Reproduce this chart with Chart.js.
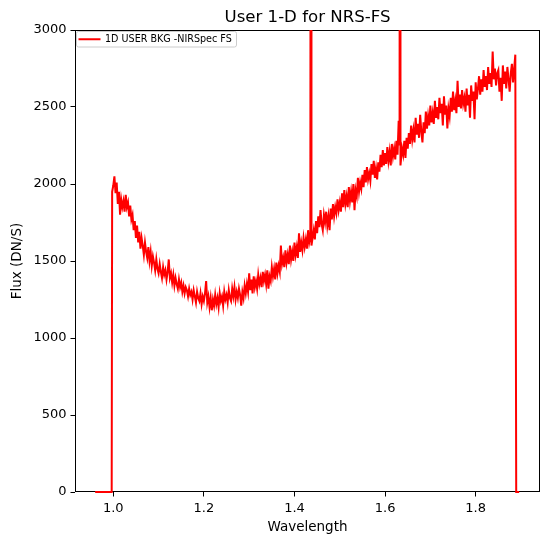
<!DOCTYPE html>
<html lang="en">
  <head>
    <meta charset="utf-8" />
    <title>User 1-D for NRS-FS</title>
    <script src="https://cdn.jsdelivr.net/npm/chart.js/dist/chart.umd.min.js"></script>
    <style>
      * {
        margin: 0;
        padding: 0;
      }
      body {
        background: #fff;
        width: 553px;
        height: 545px;
        overflow: hidden;
      }
      canvas {
        display: block;
      }
    </style>
  </head>
  <body>
    <canvas id="myChart" width="553" height="545"></canvas>

    <script>
      const chartTitle = "User 1-D for NRS-FS";
      const seriesLabel = "1D USER BKG -NIRSpec FS";

      // wavelength (microns)
      const wavelength = [
        0.960, 0.9965, 0.9975,
        1.000, 1.0025, 1.005, 1.0075, 1.010, 1.0125, 1.015, 1.0175, 1.020, 1.0225,
        1.025, 1.0275, 1.030, 1.0325, 1.035, 1.0375, 1.040, 1.0425, 1.045, 1.0475,
        1.050, 1.0525, 1.055, 1.0575, 1.060, 1.0625, 1.065, 1.0675, 1.070, 1.0725,
        1.075, 1.0775, 1.080, 1.0825, 1.085, 1.0875, 1.090, 1.0925, 1.095, 1.0975,
        1.100, 1.1025, 1.105, 1.1075, 1.110, 1.1125, 1.115, 1.1175, 1.120, 1.1225,
        1.125, 1.1275, 1.130, 1.1325, 1.135, 1.1375, 1.140, 1.1425, 1.145, 1.1475,
        1.150, 1.1525, 1.155, 1.1575, 1.160, 1.1625, 1.165, 1.1675, 1.170, 1.1725,
        1.175, 1.1775, 1.180, 1.1825, 1.185, 1.1875, 1.190, 1.1925, 1.195, 1.1975,
        1.200, 1.2025, 1.205, 1.2075, 1.210, 1.2125, 1.215, 1.2175, 1.220, 1.2225,
        1.225, 1.2275, 1.230, 1.2325, 1.235, 1.2375, 1.240, 1.2425, 1.245, 1.2475,
        1.250, 1.2525, 1.255, 1.2575, 1.260, 1.2625, 1.265, 1.2675, 1.270, 1.2725,
        1.275, 1.2775, 1.280, 1.2825, 1.285, 1.2875, 1.290, 1.2925, 1.295, 1.2975,
        1.300, 1.3025, 1.305, 1.3075, 1.310, 1.3125, 1.315, 1.3175, 1.320, 1.3225,
        1.325, 1.3275, 1.330, 1.3325, 1.335, 1.3375, 1.340, 1.3425, 1.345, 1.3475,
        1.350, 1.3525, 1.355, 1.3575, 1.360, 1.3625, 1.365, 1.3675, 1.370, 1.3725,
        1.375, 1.3775, 1.380, 1.3825, 1.385, 1.3875, 1.390, 1.3925, 1.395, 1.3975,
        1.400, 1.4025, 1.405, 1.4075, 1.410, 1.4125, 1.415, 1.4175, 1.420, 1.4225,
        1.425, 1.4275, 1.430, 1.4325, 1.435, 1.4365, 1.4375, 1.440, 1.4425, 1.445, 1.4475,
        1.450, 1.4525, 1.455, 1.4575, 1.460, 1.4625, 1.465, 1.4675, 1.470, 1.4725,
        1.475, 1.4775, 1.480, 1.4825, 1.485, 1.4875, 1.490, 1.4925, 1.495, 1.4975,
        1.500, 1.5025, 1.505, 1.5075, 1.510, 1.5125, 1.515, 1.5175, 1.520, 1.5225,
        1.525, 1.5275, 1.530, 1.5325, 1.535, 1.5375, 1.540, 1.5425, 1.545, 1.5475,
        1.550, 1.5525, 1.555, 1.5575, 1.560, 1.5625, 1.565, 1.5675, 1.570, 1.5725,
        1.575, 1.5775, 1.580, 1.5825, 1.585, 1.5875, 1.590, 1.5925, 1.595, 1.5975,
        1.600, 1.6025, 1.605, 1.6075, 1.610, 1.6125, 1.615, 1.6175, 1.620, 1.6225,
        1.625, 1.6275, 1.630, 1.632, 1.633, 1.634, 1.6375, 1.640, 1.6425, 1.645, 1.6475,
        1.650, 1.6525, 1.655, 1.6575, 1.660, 1.6625, 1.665, 1.6675, 1.670, 1.6725,
        1.675, 1.6775, 1.680, 1.6825, 1.685, 1.6875, 1.690, 1.6925, 1.695, 1.6975,
        1.700, 1.7025, 1.705, 1.7075, 1.710, 1.7125, 1.715, 1.7175, 1.720, 1.7225,
        1.725, 1.7275, 1.730, 1.7325, 1.735, 1.7375, 1.740, 1.7425, 1.745, 1.7475,
        1.750, 1.7525, 1.755, 1.7575, 1.760, 1.7625, 1.765, 1.7675, 1.770, 1.7725,
        1.775, 1.7775, 1.780, 1.7825, 1.785, 1.7875, 1.790, 1.7925, 1.795, 1.7975,
        1.800, 1.8025, 1.805, 1.8075, 1.810, 1.8125, 1.815, 1.8175, 1.820, 1.8225,
        1.825, 1.8275, 1.830, 1.8325, 1.835, 1.8375, 1.840, 1.8425, 1.845, 1.8475,
        1.850, 1.8525, 1.855, 1.8575, 1.860, 1.8625, 1.865, 1.8675, 1.870, 1.8725,
        1.875, 1.8775, 1.880, 1.8825, 1.885, 1.8875,
        1.8895, 1.896,
      ];

      // flux (DN/S)
      const flux = [
        0, 0, 1950,
        1990, 2050, 1940, 2010, 1870, 1950, 1800, 1900, 1850, 1890,
        1820, 1930, 1850, 1880, 1790, 1860, 1770, 1800, 1700, 1760,
        1650, 1730, 1620, 1690, 1580, 1650, 1600, 1540, 1620, 1560,
        1520, 1590, 1500, 1560, 1470, 1530, 1490, 1440, 1510, 1450,
        1420, 1480, 1430, 1390, 1460, 1410, 1440, 1380, 1430, 1510,
        1390, 1420, 1360, 1410, 1340, 1390, 1350, 1320, 1380, 1330,
        1360, 1300, 1340, 1290, 1330, 1310, 1270, 1320, 1280, 1300,
        1250, 1310, 1270, 1230, 1300, 1260, 1240, 1290, 1220, 1270,
        1240, 1290, 1370, 1230, 1270, 1200, 1260, 1180, 1250, 1210,
        1280, 1220, 1260, 1200, 1290, 1240, 1270, 1210, 1300, 1250,
        1280, 1230, 1310, 1260, 1240, 1320, 1270, 1330, 1250, 1300,
        1260, 1320, 1280, 1210, 1300, 1260, 1340, 1290, 1350, 1300,
        1420, 1310, 1380, 1290, 1400, 1330, 1370, 1320, 1410, 1350,
        1390, 1330, 1430, 1370, 1410, 1350, 1440, 1320, 1400, 1370,
        1460, 1400, 1450, 1380, 1490, 1420, 1470, 1430, 1600, 1480,
        1520, 1460, 1570, 1490, 1540, 1480, 1600, 1510, 1560, 1500,
        1620, 1540, 1590, 1520, 1680, 1560, 1620, 1570, 1650, 1590,
        1640, 1580, 1700, 1620, 1660, 9000, 1600, 1650, 1700, 1640, 1760,
        1680, 1790, 1720, 1830, 1740, 1700, 1800, 1750, 1820, 1730,
        1790, 1700, 1840, 1770, 1870, 1790, 1850, 1810, 1900, 1830,
        1880, 1820, 1940, 1850, 1960, 1870, 1920, 1850, 1980, 1890,
        1950, 1880, 2000, 1830, 1960, 1920, 2040, 1950, 2010, 1970,
        2060, 1980, 2090, 2010, 2110, 2030, 2070, 2020, 2130, 2060,
        2150, 2040, 2100, 2030, 2140, 2080, 2190, 2110, 2220, 2120,
        2200, 2130, 2240, 2150, 2210, 2120, 2260, 2180, 2230, 2160,
        2280, 2190, 2410, 2250, 9000, 2120, 2230, 2190, 2280, 2170, 2300,
        2230, 2330, 2260, 2380, 2290, 2350, 2270, 2430, 2320, 2390,
        2300, 2450, 2340, 2270, 2400, 2330, 2470, 2360, 2440, 2380,
        2510, 2400, 2460, 2390, 2540, 2430, 2500, 2420, 2560, 2460,
        2520, 2380, 2570, 2450, 2510, 2360, 2490, 2440, 2560, 2470,
        2600, 2480, 2540, 2460, 2670, 2500, 2580, 2490, 2610, 2520,
        2560, 2470, 2620, 2510, 2580, 2430, 2640, 2540, 2600, 2420,
        2660, 2550, 2620, 2700, 2580, 2680, 2600, 2740, 2630, 2700,
        2610, 2760, 2650, 2720, 2630, 2860, 2680, 2750, 2640, 2720,
        2740, 2600, 2690, 2540, 2770, 2650, 2730, 2620, 2760, 2680,
        2600, 2720, 2780, 2660, 2750, 2840,
        0, 0,
      ];

      const xTicks = [1.0, 1.2, 1.4, 1.6, 1.8];
      const yTicks = [0, 500, 1000, 1500, 2000, 2500, 3000];

      const FONT = "'DejaVu Sans', sans-serif";

      // axes frame under the line, like the red zero level sitting on the spine
      const mplFrame = {
        id: "mplFrame",
        beforeDatasetsDraw(chart) {
          const { ctx, chartArea } = chart;
          const { left, top, right, bottom } = chartArea;
          ctx.save();
          ctx.strokeStyle = "#000";
          ctx.lineWidth = 1;
          ctx.strokeRect(left + 0.5, top + 0.5, right - left - 1, bottom - top - 1);
          ctx.restore();
        },
      };

      // title and legend box drawn matplotlib-style
      const mplDecor = {
        id: "mplDecor",
        afterDraw(chart) {
          const { ctx, chartArea } = chart;
          const { left, top, right } = chartArea;
          ctx.save();

          ctx.fillStyle = "#000";
          ctx.font = `16.6px ${FONT}`;
          ctx.textAlign = "center";
          ctx.textBaseline = "alphabetic";
          ctx.fillText(chartTitle, (left + right) / 2, 22);

          const bx = left + 1.5, by = top + 1.5, bw = 160, bh = 15.5;
          ctx.beginPath();
          ctx.roundRect(bx, by, bw, bh, 2);
          ctx.fillStyle = "rgba(255,255,255,0.8)";
          ctx.fill();
          ctx.strokeStyle = "#cccccc";
          ctx.lineWidth = 1;
          ctx.stroke();

          ctx.beginPath();
          ctx.moveTo(bx + 2, by + bh / 2);
          ctx.lineTo(bx + 24, by + bh / 2);
          ctx.strokeStyle = "#ff0000";
          ctx.lineWidth = 2;
          ctx.stroke();

          ctx.fillStyle = "#000";
          ctx.font = `9.6px ${FONT}`;
          ctx.textAlign = "left";
          ctx.textBaseline = "middle";
          ctx.fillText(seriesLabel, bx + 28.5, by + bh / 2 + 0.5);
          ctx.restore();
        },
      };

      const config = {
        type: "line",
        data: {
          datasets: [
            {
              label: seriesLabel,
              data: wavelength.map((w, i) => ({ x: w, y: flux[i] })),
              borderColor: "#ff0000",
              backgroundColor: "#ff0000",
              borderWidth: 2,
              pointRadius: 0,
              tension: 0,
              fill: false,
              clip: { left: 2, top: 0, right: 2, bottom: 2 },
            },
          ],
        },
        options: {
          responsive: false,
          devicePixelRatio: 1,
          animation: false,
          layout: {
            padding: { left: 0, top: 30, right: 13, bottom: 0 },
          },
          plugins: {
            legend: { display: false },
            tooltip: { enabled: false },
            title: { display: false },
          },
          scales: {
            x: {
              type: "linear",
              min: 0.9155,
              max: 1.942,
              afterBuildTicks: (scale) => {
                scale.ticks = xTicks.map((v) => ({ value: v }));
              },
              afterFit: (scale) => {
                scale.height = 53;
              },
              ticks: {
                color: "#000",
                font: { family: FONT, size: 13 },
                padding: 4,
                maxRotation: 0,
                autoSkip: false,
                callback: (v) => Number(v).toFixed(1),
              },
              grid: {
                display: true,
                drawOnChartArea: false,
                drawTicks: true,
                tickLength: 4.5,
                tickColor: "#000",
                tickWidth: 1,
              },
              border: { display: false },
              title: {
                display: true,
                text: "Wavelength",
                color: "#000",
                font: { family: FONT, size: 13.5 },
                padding: { top: 2, bottom: 9 },
              },
            },
            y: {
              min: 0,
              max: 3000,
              afterBuildTicks: (scale) => {
                scale.ticks = yTicks.map((v) => ({ value: v }));
              },
              afterFit: (scale) => {
                scale.width = 75;
              },
              ticks: {
                color: "#000",
                font: { family: FONT, size: 13 },
                padding: 4,
                autoSkip: false,
                callback: (v) => String(v),
              },
              grid: {
                display: true,
                drawOnChartArea: false,
                drawTicks: true,
                tickLength: 4.5,
                tickColor: "#000",
                tickWidth: 1,
              },
              border: { display: false },
              title: {
                display: true,
                text: "Flux (DN/S)",
                color: "#000",
                font: { family: FONT, size: 13.5 },
                padding: { top: 9, bottom: 2 },
              },
            },
          },
        },
        plugins: [mplFrame, mplDecor],
      };

      const myChart = new Chart(document.getElementById("myChart"), config);
    </script>
  </body>
</html>
